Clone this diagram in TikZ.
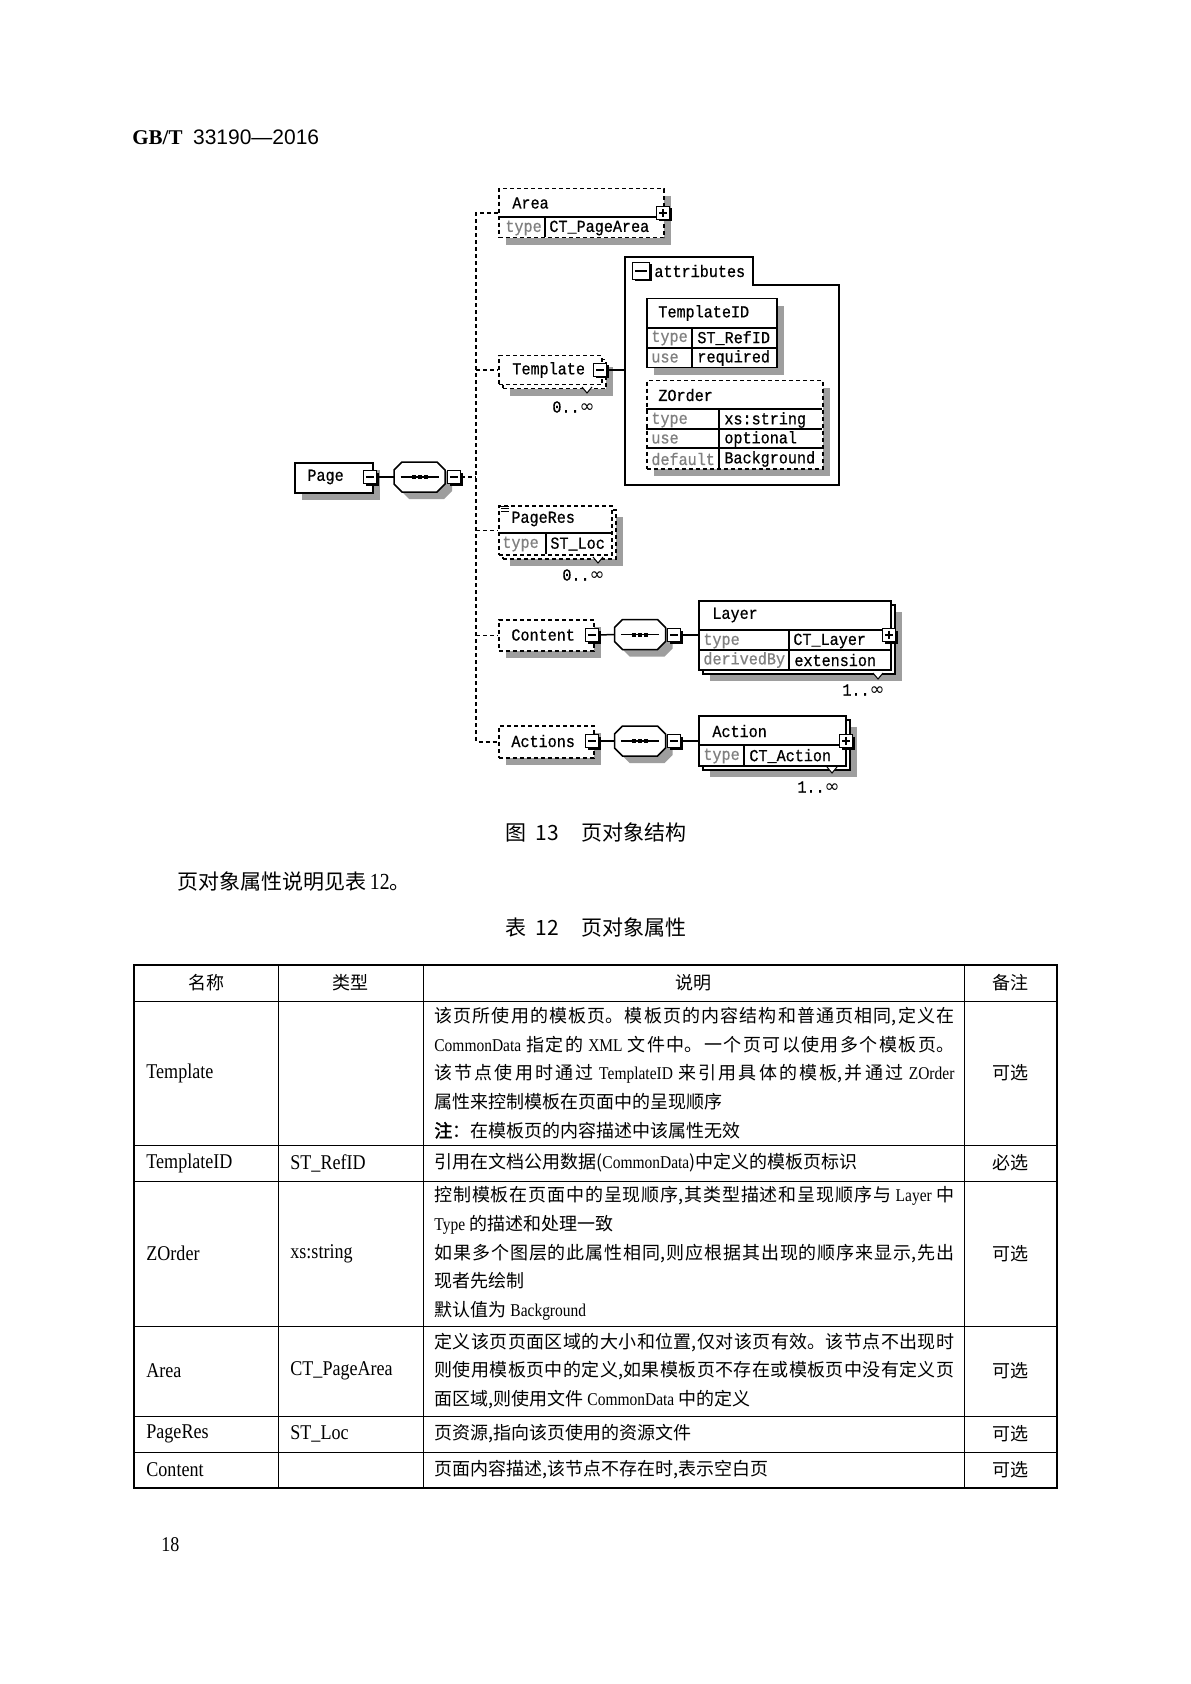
\documentclass[tikz,border=0pt]{standalone}
\usepackage{fontspec}
\setmainfont{Liberation Serif}
\newfontfamily\cjk{Noto Sans CJK SC}
\newfontfamily\cjkb[FakeBold=2]{Noto Sans CJK SC}
\newfontfamily\lat[FakeStretch=0.86]{Liberation Serif}
\newfontfamily\mono[FakeBold=0.7,FakeStretch=0.9]{Liberation Mono}
\newfontfamily\hsans{Liberation Sans}
\newfontfamily\dejavu{DejaVu Sans}
\usetikzlibrary{shadows}
\XeTeXlinebreaklocale "zh"
\XeTeXlinebreakskip=0pt plus 1.5pt
\newcommand\mkbox[6]{\node[#2,minimum width=#5*0.5pt,minimum height=#6*0.5pt] (#1) at (#3,#4) {};}
\newcommand\seqoct[3]{%
  \node[inner sep=0,minimum width=25.5pt,minimum height=15pt] (#1) at (#2,#3) {};
  \draw[line width=0.75pt,fill=white,shd] ({#2-25.5},{#3-7}) -- ({#2-17.5},{#3-15}) -- ({#2+17.5},{#3-15}) -- ({#2+25.5},{#3-7}) -- ({#2+25.5},{#3+7}) -- ({#2+17.5},{#3+15}) -- ({#2-17.5},{#3+15}) -- ({#2-25.5},{#3+7}) -- cycle;
  \draw[line width=0.75pt] ({#2-19},#3) -- ({#2+19},#3);
  \foreach \dx in {-6,0,6} {\fill ({#2+\dx-2},{#3-2}) rectangle ({#2+\dx+2},{#3+2});}
}
\newcommand\occv[2]{\draw[line width=0.5pt,fill=white] ({#1-5},#2) -- ({#1},{#2+6}) -- ({#1+5},#2);}
\newcommand\infy{{\dejavu\fontsize{9}{10}\selectfont ∞}}
\begin{document}
\begin{tikzpicture}[x=0.5pt,y=-0.5pt,
  shd/.style={drop shadow={shadow xshift=3.5pt,shadow yshift=-3.5pt,fill=black!38,opacity=1}},
  ebox/.style={draw,fill=white,line width=0.75pt,inner sep=0,anchor=north west},
  dbox/.style={ebox,dash pattern=on 2pt off 1.5pt},
  dline/.style={line width=0.75pt,dash pattern=on 2pt off 1.5pt},
  sline/.style={line width=0.75pt},
  divl/.style={line width=0.6pt},
  iconbase/.style={draw,fill=white,line width=0.6pt,inner sep=0,minimum size=6.5pt,
     drop shadow={shadow xshift=1pt,shadow yshift=-1pt,fill=black,opacity=1}},
  mbox/.style={iconbase,path picture={\draw[line width=0.6pt] ([xshift=1.2pt]path picture bounding box.west) -- ([xshift=-1.2pt]path picture bounding box.east);}},
  pbox/.style={iconbase,path picture={\draw[line width=0.6pt] ([xshift=1.2pt]path picture bounding box.west) -- ([xshift=-1.2pt]path picture bounding box.east);
      \draw[line width=0.6pt] ([yshift=-1.2pt]path picture bounding box.north) -- ([yshift=1.2pt]path picture bounding box.south);}},
  mtxt/.style={font=\mono\fontsize{8.4}{10}\selectfont,inner sep=0,anchor=west},
  gtxt/.style={mtxt,text=black!50},
  tcell/.style={font=\lat\fontsize{10.5}{12}\selectfont,inner sep=0,anchor=west},
  ccell/.style={font=\cjk\fontsize{9}{12}\selectfont,inner sep=0,anchor=center},
  desc/.style={font=\cjk\fontsize{9}{14.35}\selectfont,inner sep=0,anchor=west,text width=260pt,align=justify},
  tline/.style={line width=0.5pt},
]
\fill[white] (0,0) rectangle (1190,1684);
\useasboundingbox (0,0) rectangle (1190,1684);

% header
\node[inner sep=0,anchor=west,font=\fontsize{10.5}{12}\selectfont] (hdr) at (132,137) {\textbf{GB/T}\hspace{0.5em}{\hsans 33190—2016}};

% ---------------- diagram ----------------
% Page
\mkbox{page}{ebox,shd}{294}{462}{78}{30}
\node[mtxt] (pagetxt) at (307,477) {Page};
\node[mbox] (pmin) at (370,477) {};
\seqoct{seqa}{419.5}{477}
\node[mbox] (samin) at (454,477) {};
\draw[sline] (pmin.east) -- (seqa.west);
\coordinate (trunk) at (476,477);
\draw[dline] (samin.east) -- (trunk);

% Area
\mkbox{area}{dbox,shd}{498}{188}{165}{49}
\draw[divl] (498,217) -- (663,217);
\draw[divl] (545,217) -- (545,237);
\node[mtxt] (areatxt) at (512,203) {Area};
\node[gtxt] (areat) at (505,228) {type};
\node[mtxt] (areav) at (549,228) {CT\_PageArea};
\node[pbox] (aplus) at (663,213) {};

% Template (stacked)
\mkbox{templateb}{dbox,shd}{502}{359}{103}{29}
\mkbox{template}{dbox}{498}{355}{103}{29}
\occv{587}{387}
\node[mtxt] (templtxt) at (512,370) {Template};
\node[mbox] (tmin) at (600,370) {};
\node[mtxt] (toc) at (552,407) {0..\infy};

% attributes
\node[inner sep=0,anchor=north west,minimum width=107pt,minimum height=114pt] (attr) at (625,257) {};
\draw[line width=0.75pt,fill=white] (625,485) -- (625,257) -- (753,257) -- (753,285) -- (839,285) -- (839,485) -- cycle;
\node[mbox,minimum size=8.5pt] (atmin) at (641,271) {};
\node[mtxt] (attrtxt) at (654,271) {attributes};
\draw[sline] (tmin.east) -- (attr.west |- tmin.east);

% TemplateID
\mkbox{tid}{ebox,shd}{646}{298}{130}{69}
\draw[divl] (646,328) -- (776,328);
\draw[divl] (646,348) -- (776,348);
\draw[divl] (692,328) -- (692,367);
\node[mtxt] (tidtxt) at (658,313) {TemplateID};
\node[gtxt] (tidt) at (651,338) {type};
\node[mtxt] (tidv) at (697,338) {ST\_RefID};
\node[gtxt] (tidu) at (651,358) {use};
\node[mtxt] (tiduv) at (697,358) {required};

% ZOrder
\mkbox{zo}{dbox,shd}{646}{380}{176}{88}
\draw[divl] (646,409) -- (822,409);
\draw[divl] (646,429) -- (822,429);
\draw[divl] (646,448) -- (822,448);
\draw[divl] (719,409) -- (719,468);
\node[mtxt] (zotxt) at (658,395) {ZOrder};
\node[gtxt] (zot) at (651,420) {type};
\node[mtxt] (zotv) at (724,420) {xs:string};
\node[gtxt] (zou) at (651,439) {use};
\node[mtxt] (zouv) at (724,439) {optional};
\node[gtxt] (zod) at (651,459) {default};
\node[mtxt] (zodv) at (724,459) {Background};

% PageRes (stacked)
\mkbox{pageresb}{dbox,shd}{502}{509}{113}{49}
\mkbox{pageres}{dbox}{498}{505}{113}{49}
\occv{598}{557}
\draw[divl] (498,533) -- (611,533);
\draw[divl] (546,533) -- (546,554);
\draw[line width=0.5pt] (501,506) -- (509,506) (501,508.5) -- (509,508.5) (501,511) -- (509,511);
\node[mtxt] (prtxt) at (511,519) {PageRes};
\node[gtxt] (prt) at (502,544) {type};
\node[mtxt] (prv) at (550,544) {ST\_Loc};
\node[mtxt] (proc) at (562,575) {0..\infy};

% Content
\mkbox{content}{dbox,shd}{498}{619}{95}{31}
\node[mtxt] (conttxt) at (511,635) {Content};
\node[mbox] (cmin) at (592,635) {};
\seqoct{seqb}{640}{634.5}
\node[mbox] (sbmin) at (674,635) {};
\draw[sline] (cmin.east) -- (seqb.west);

% Layer (stacked)
\mkbox{layerb}{ebox,shd}{702}{604}{192}{69}
\mkbox{layer}{ebox}{698}{600}{192}{69}
\occv{878}{673}
\draw[divl] (698,630) -- (890,630);
\draw[divl] (698,650) -- (890,650);
\draw[divl] (789,630) -- (789,669);
\node[mtxt] (laytxt) at (712,615) {Layer};
\node[gtxt] (layt) at (703,641) {type};
\node[mtxt] (laytv) at (793,641) {CT\_Layer};
\node[gtxt] (layd) at (703,660) {derivedBy};
\node[mtxt] (laydv) at (794,660) {extension};
\node[pbox] (lplus) at (889,635) {};
\node[mtxt] (layoc) at (842,690) {1..\infy};
\draw[sline] (sbmin.east) -- (layer.west |- sbmin.east);

% Actions
\mkbox{actions}{dbox,shd}{498}{725}{95}{32}
\node[mtxt] (actstxt) at (511,741) {Actions};
\node[mbox] (acmin) at (592,741) {};
\seqoct{seqc}{640}{741}
\node[mbox] (scmin) at (674,741) {};
\draw[sline] (acmin.east) -- (seqc.west);

% Action (stacked)
\mkbox{actionb}{ebox,shd}{702}{719}{147}{50}
\mkbox{action}{ebox}{698}{715}{147}{50}
\occv{832}{767}
\draw[divl] (698,745) -- (845,745);
\draw[divl] (744,745) -- (744,765);
\node[mtxt] (acttxt) at (712,731) {Action};
\node[gtxt] (actt) at (703,756) {type};
\node[mtxt] (acttv) at (749,756) {CT\_Action};
\node[pbox] (acplus) at (846,741) {};
\node[mtxt] (actoc) at (797,787) {1..\infy};
\draw[sline] (scmin.east) -- (action.west |- scmin.east);

% trunk and branches
\draw[dline] (area.west) -| (trunk) |- (actions.west);
\draw[dline] (trunk |- template.west) -- (template.west);
\draw[dline] (trunk |- pageres.west) -- (pageres.west);
\draw[dline] (trunk |- content.west) -- (content.west);

% ---------------- captions ----------------
\node[inner sep=0,font=\cjk\fontsize{10.5}{12}\selectfont] (cap1) at (596,833) {图\hspace{0.45em}13\hspace{1.1em}页对象结构};
\node[inner sep=0,anchor=west,font=\cjk\fontsize{10.5}{12}\selectfont] (body) at (177,882) {页对象属性说明见表\,{\lat\fontsize{11.5}{12}\selectfont 12}。};
\node[inner sep=0,font=\cjk\fontsize{10.5}{12}\selectfont] (cap2) at (596,928) {表\hspace{0.45em}12\hspace{1.1em}页对象属性};

% ---------------- table ----------------
\draw[line width=0.8pt] (134,965) rectangle (1057,1488);
\foreach \yy in {1001,1145,1181,1326,1416,1452} {\draw[tline] (134,\yy) -- (1057,\yy);}
\foreach \xx in {278,423,964} {\draw[tline] (\xx,965) -- (\xx,1488);}

\node[ccell] (h1) at (206,983) {名称};
\node[ccell] (h2) at (350.5,983) {类型};
\node[ccell] (h3) at (693.5,983) {说明};
\node[ccell] (h4) at (1010.5,983) {备注};

% Template row
\node[tcell] (r1a) at (146,1073) {Template};
\node[desc] (r1c) at (434,1073) {该页所使用的模板页。模板页的内容结构和普通页相同,定义在\linebreak {\lat CommonData} 指定的 {\lat XML} 文件中。一个页可以使用多个模板页。\linebreak 该节点使用时通过 {\lat TemplateID} 来引用具体的模板,并通过 {\lat ZOrder}\linebreak 属性来控制模板在页面中的呈现顺序\\ {\cjkb 注}：在模板页的内容描述中该属性无效};
\node[ccell] (r1d) at (1010.5,1073) {可选};

% TemplateID row
\node[tcell] (r2a) at (146,1163) {TemplateID};
\node[tcell] (r2b) at (290,1163) {ST\_RefID};
\node[desc] (r2c) at (434,1163) {引用在文档公用数据({\lat CommonData})中定义的模板页标识};
\node[ccell] (r2d) at (1010.5,1163) {必选};

% ZOrder row
\node[tcell] (r3a) at (146,1253.5) {ZOrder};
\node[tcell] (r3b) at (290,1253.5) {xs:string};
\node[desc] (r3c) at (434,1253.5) {控制模板在页面中的呈现顺序,其类型描述和呈现顺序与 {\lat Layer} 中\linebreak {\lat Type} 的描述和处理一致\\ 如果多个图层的此属性相同,则应根据其出现的顺序来显示,先出\linebreak 现者先绘制\\ 默认值为 {\lat Background}};
\node[ccell] (r3d) at (1010.5,1253.5) {可选};

% Area row
\node[tcell] (r4a) at (146,1371) {Area};
\node[tcell] (r4b) at (290,1371) {CT\_PageArea};
\node[desc] (r4c) at (434,1371) {定义该页页面区域的大小和位置,仅对该页有效。该节点不出现时\linebreak 则使用模板页中的定义,如果模板页不存在或模板页中没有定义页\linebreak 面区域,则使用文件 {\lat CommonData} 中的定义};
\node[ccell] (r4d) at (1010.5,1371) {可选};

% PageRes row
\node[tcell] (r5a) at (146,1434) {PageRes};
\node[tcell] (r5b) at (290,1434) {ST\_Loc};
\node[desc] (r5c) at (434,1434) {页资源,指向该页使用的资源文件};
\node[ccell] (r5d) at (1010.5,1434) {可选};

% Content row
\node[tcell] (r6a) at (146,1470) {Content};
\node[desc] (r6c) at (434,1470) {页面内容描述,该节点不存在时,表示空白页};
\node[ccell] (r6d) at (1010.5,1470) {可选};

% page number
\node[tcell] (pgno) at (161,1545) {18};
\end{tikzpicture}
\end{document}
